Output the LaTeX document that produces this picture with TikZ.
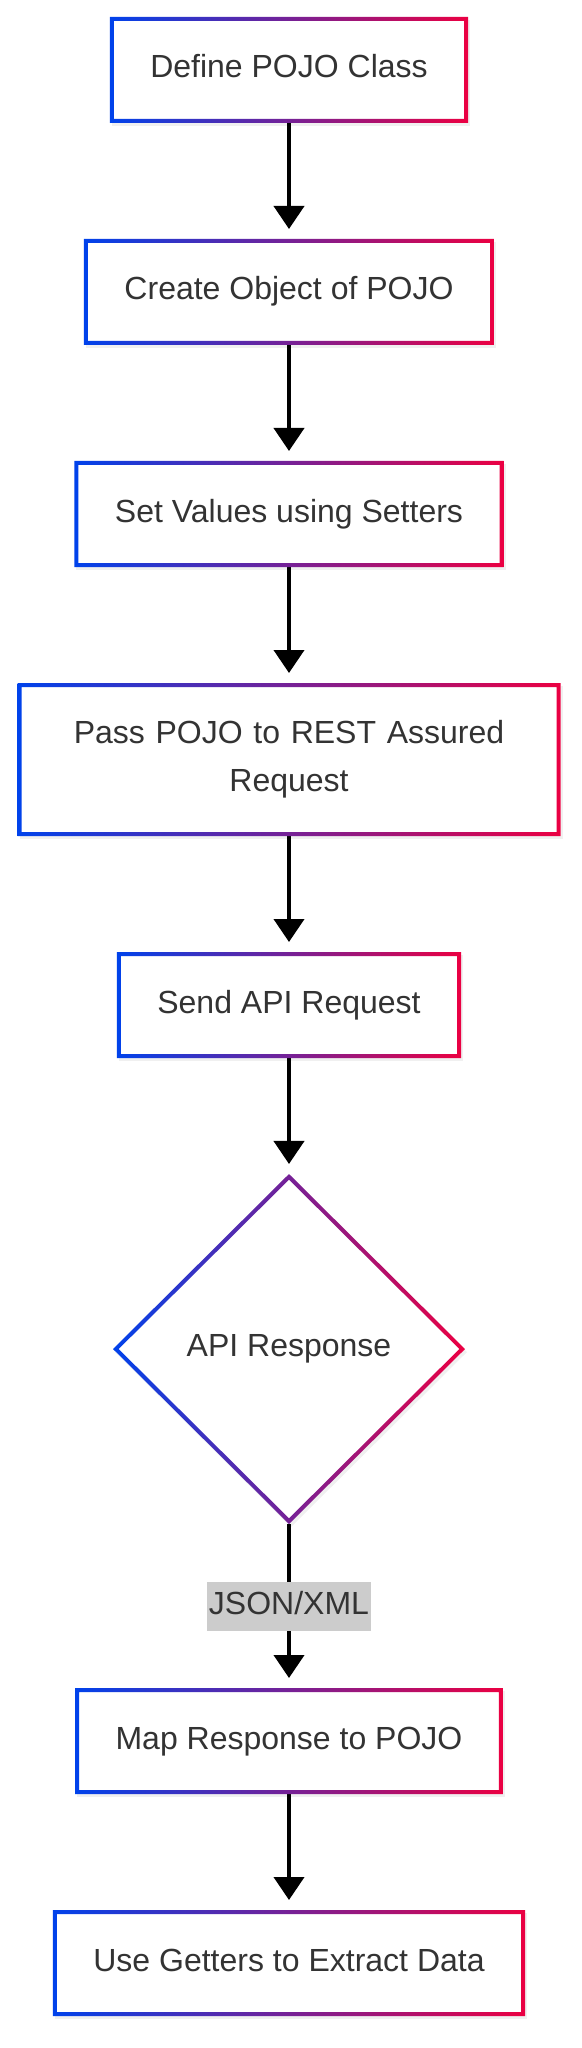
\documentclass[tikz,border=0pt]{standalone}
\usepackage{fontspec}
\setmainfont{Liberation Sans}
\usetikzlibrary{positioning,shapes.geometric,arrows.meta,shadows}
\definecolor{flowblue}{HTML}{0042EB}
\definecolor{flowred}{HTML}{EB0042}
\definecolor{flowtext}{HTML}{333333}
\newcommand{\ringbox}[1]{\shade[left color=flowblue,right color=flowred,even odd rule]
  (#1.north west) rectangle (#1.south east)
  ([shift={(2pt,-2pt)}]#1.north west) rectangle ([shift={(-2pt,2pt)}]#1.south east);}

\begin{document}
\begin{tikzpicture}[font=\fontsize{16pt}{24pt}\selectfont,text=flowtext,node distance=58pt,
    stepbox/.style={rectangle,fill=white,outer sep=0pt,inner xsep=20.25pt,inner ysep=0pt,
      minimum height=53pt,text height=11.5pt,text depth=3.5pt,
      drop shadow={opacity=.12,shadow xshift=1pt,shadow yshift=-1.5pt}},
    flow/.style={line width=2pt,-{Triangle[width=15pt,length=11.5pt]},shorten >=5pt}]
  \useasboundingbox (0,0) rectangle (291pt,-1024pt);
  \node[stepbox] (define) at (144.5pt,-35pt) {Define POJO Class};
  \node[stepbox,below=of define] (create) {Create Object of POJO};
  \node[stepbox,below=of create] (setvals) {Set Values using Setters};
  \node[stepbox,below=of setvals,text width=231pt,align=center,minimum height=76.5pt,
    text height={},text depth={}] (pass) {Pass POJO to REST Assured\\Request};
  \node[stepbox,below=of pass] (send) {Send API Request};
  \node[diamond,below=of send,fill=white,aspect=1,minimum width=176pt,minimum height=175pt,
    inner sep=0pt,outer sep=0pt,
    drop shadow={opacity=.12,shadow xshift=1pt,shadow yshift=-1.5pt}] (resp) {API Response};
  \node[stepbox,below=82pt of resp] (map) {Map Response to POJO};
  \node[stepbox,below=of map] (extract) {Use Getters to Extract Data};

  \draw[flow] (define) -- (create);
  \draw[flow] (create) -- (setvals);
  \draw[flow] (setvals) -- (pass);
  \draw[flow] (pass) -- (send);
  \draw[flow] (send) -- (resp);
  \draw[flow] (resp) -- node[fill=black!20,inner xsep=1pt,inner ysep=0pt,minimum height=24.5pt,
    text height=11.5pt,text depth=3.5pt] (json) {JSON/XML} (map);
  \draw[flow] (map) -- (extract);

  \foreach \n in {define,create,setvals,pass,send,map,extract}
    {\ringbox{\n}}
  \shade[left color=flowblue,right color=flowred,even odd rule]
    (resp.north) -- (resp.east) -- (resp.south) -- (resp.west) -- cycle
    ([yshift=-2.83pt]resp.north) -- ([xshift=-2.83pt]resp.east)
    -- ([yshift=2.83pt]resp.south) -- ([xshift=2.83pt]resp.west) -- cycle;
\end{tikzpicture}
\end{document}
